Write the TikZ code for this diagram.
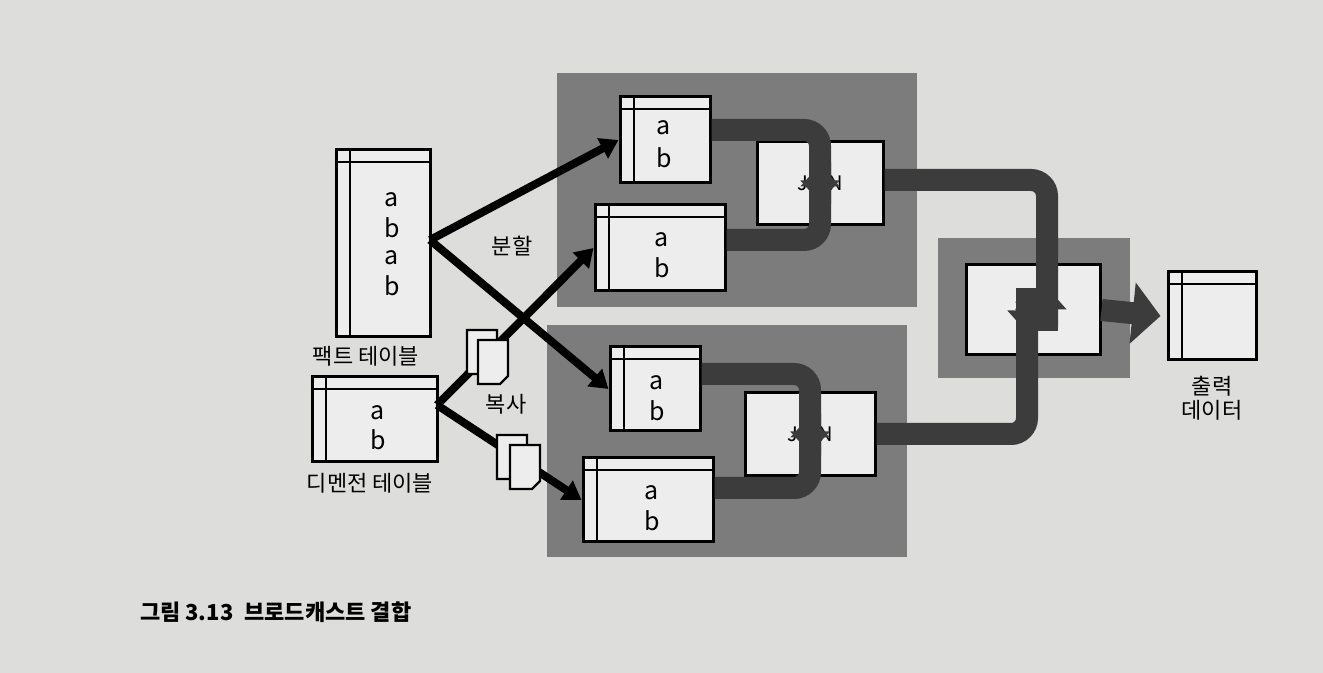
\documentclass[tikz,border=0pt]{standalone}
\usepackage{fontspec}
\setmainfont{Noto Sans CJK KR}
\usetikzlibrary{arrows.meta}
\definecolor{paper}{HTML}{DDDDDB}
\definecolor{panel}{HTML}{7C7C7C}
\definecolor{boxf}{HTML}{EDEDED}
\definecolor{darr}{HTML}{3C3C3C}
\tikzset{
 tbox/.style={draw=black,line width=1.5pt,fill=boxf,inner sep=0pt},
 lbl/.style={font=\fontsize{11}{12}\selectfont},
 ab/.style={font=\fontsize{12.5}{13}\selectfont},
 blk/.style={line width=4pt,draw=black,-{Triangle[width=11pt,length=9pt]}},
 fat/.style={line width=11pt,draw=darr,rounded corners=8pt},
 fattip/.style={line width=11pt,draw=darr,-{Triangle[width=19pt,length=11pt]}},
 pnl/.style={fill=panel,draw=none},
 page/.style={draw=black,line width=1.2pt,fill=boxf}
}
\newcommand\tbl[5]{%
 \node[tbox,minimum width={(#4-#2)*0.5pt},minimum height={(#5-#3)*0.5pt}] (#1) at ({(#2+#4)/2},{(#3+#5)/2}) {};
 \draw[line width=1pt] ([yshift=-7pt]#1.north west) -- ([yshift=-7pt]#1.north east);
 \draw[line width=1pt] ([xshift=7.5pt]#1.north west) -- ([xshift=7.5pt]#1.south west);}
\newcommand\pg[3]{% name x y (top-left)
 \path[page] (#2,#3) -- ++(30,0) -- ++(0,36) -- ++(-8,8) -- ++(-22,0) -- cycle;
 \coordinate (#1) at ({#2+15},{#3+22});}
\begin{document}
\begin{tikzpicture}[x=0.5pt,y=-0.5pt]
\fill[paper] (0,0) rectangle (1323,673);
\useasboundingbox (0,0) rectangle (1323,673);
% panels
\fill[pnl] (557,73) rectangle (917,307);
\fill[pnl] (547,325) rectangle (907,557);
\fill[pnl] (938,238) rectangle (1130,378);
% source tables
\tbl{fact}{336}{150}{430}{337}
\node[ab] (f1) at (392,200) {a};
\node[ab] (f2) at (392,228) {b};
\node[ab] (f3) at (392,258) {a};
\node[ab] (f4) at (392,286) {b};
\node[lbl] (factl) at (366,356) {팩트 테이블};
\tbl{dim}{312}{377}{437}{462}
\node[ab] (d1) at (378,413) {a};
\node[ab] (d2) at (378,440) {b};
\node[lbl] (diml) at (370,483) {디멘전 테이블};
% black arrows
\coordinate (fo) at (430,240);
\coordinate (do) at (437,405);
\tbl{t1}{620}{97}{710}{183}
\tbl{t2}{595}{205}{725}{291}
\tbl{b1}{610}{347}{700}{431}
\tbl{b2}{583}{458}{713}{542}
\draw[blk] (fo) -- (t1.west);
\draw[blk] (fo) -- (b1.west);
\draw[blk] (do) -- (t2.west);
\draw[blk] (do) -- (b2.west);
\pg{c1a}{467}{330}
\pg{c1b}{478}{340}
\pg{c2a}{497}{435}
\pg{c2b}{510}{445}
\node[lbl] (split) at (512,246) {분할};
\node[lbl] (copy) at (506,404) {복사};
\node[ab] at (664,128) {a};
\node[ab] at (664,158) {b};
\node[ab] at (662,240) {a};
\node[ab] at (662,268) {b};
\node[ab] at (657,383) {a};
\node[ab] at (657,411) {b};
\node[ab] at (652,493) {a};
\node[ab] at (652,521) {b};
% join boxes
\node[tbox,minimum width=63pt,minimum height=41.5pt] (j1) at (820,183.5) {JOIN};
\node[tbox,minimum width=65pt,minimum height=41.5pt] (j2) at (810,434.5) {JOIN};
\node[tbox,minimum width=67pt,minimum height=45pt] (agg) at (1033,310) {집약};
% output
\tbl{out}{1168}{272}{1256}{360}
\node[lbl,align=center] (outl) at (1212,398) {출력\\데이터};
% fat arrows: bodies
\coordinate (j1n) at ([yshift=-12pt]j1.north);
\coordinate (j1s) at ([yshift=12pt]j1.south);
\coordinate (j2n) at ([yshift=-12pt]j2.north);
\coordinate (j2s) at ([yshift=12pt]j2.south);
\coordinate (an) at ([xshift=7pt,yshift=-12pt]agg.north);
\coordinate (as) at ([xshift=-3pt,yshift=12pt]agg.south);
\draw[fat] (t1.east|-0,130) -| ([yshift=-20pt]j1n);
\draw[fat] (t2.east|-0,240) -| ([yshift=20pt]j1s);
\draw[fat] (j1.east|-0,180) -| ([yshift=-20pt]an);
\draw[fat] (j2.east|-0,434) -| ([yshift=20pt]as);
\draw[fat] (b1.east|-0,374) -| ([yshift=-20pt]j2n);
\draw[fat] (b2.east|-0,488) -| ([yshift=20pt]j2s);
% fat arrows: heads
\draw[fattip] ([yshift=-22pt]j1n) -- (j1n);
\draw[fattip] ([yshift=22pt]j1s) -- (j1s);
\draw[fattip] ([yshift=-22pt]an) -- (an);
\draw[fattip] ([yshift=22pt]as) -- (as);
\draw[fattip] ([yshift=-22pt]j2n) -- (j2n);
\draw[fattip] ([yshift=22pt]j2s) -- (j2s);
\draw[fattip,-{Triangle[width=30pt,length=14pt]}] (agg.east) -- ([xshift=-3pt]out.west);
% caption
\node[anchor=west,font=\bfseries\fontsize{11}{12}\selectfont] (cap) at (133,612) {그림 3.13\enspace 브로드캐스트 결합};
\end{tikzpicture}
\end{document}
